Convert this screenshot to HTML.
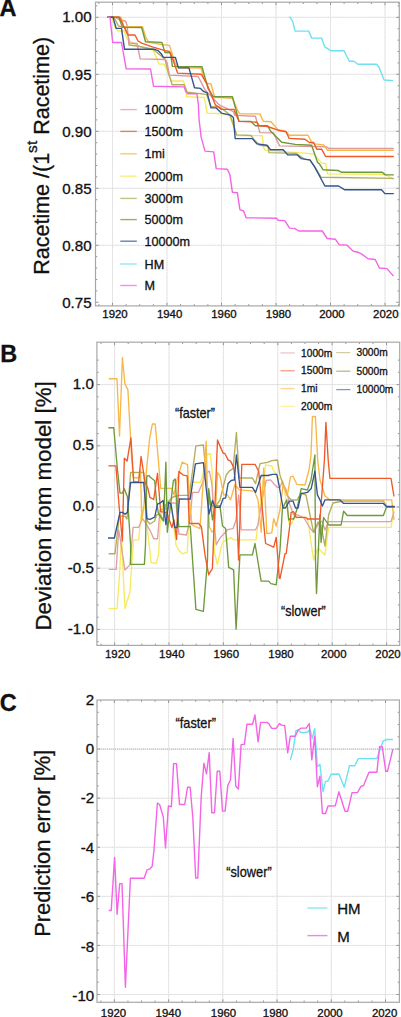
<!DOCTYPE html>
<html><head><meta charset="utf-8"><style>
html,body{margin:0;padding:0;background:#fff;}
svg{display:block;}
text{font-family:"Liberation Sans", sans-serif;fill:#111;stroke:#111;stroke-width:0.3px;}
</style></head><body>
<svg width="401" height="1017" viewBox="0 0 401 1017">
<rect width="401" height="1017" fill="#fff"/>
<path d="M112.50 2.20V305.90 M167.00 2.20V305.90 M221.50 2.20V305.90 M276.00 2.20V305.90 M330.50 2.20V305.90 M385.00 2.20V305.90 M95.50 17.30H399.30 M95.50 74.30H399.30 M95.50 131.30H399.30 M95.50 188.30H399.30 M95.50 245.30H399.30" stroke="#ebebeb" stroke-width="1" fill="none"/>
<path d="M112.50 2.20V305.90 M167.00 2.20V305.90 M221.50 2.20V305.90 M276.00 2.20V305.90 M330.50 2.20V305.90 M385.00 2.20V305.90 M95.50 17.30H399.30 M95.50 74.30H399.30 M95.50 131.30H399.30 M95.50 188.30H399.30 M95.50 245.30H399.30" stroke="#d8d8d8" stroke-width="1" stroke-dasharray="0.9 1.6" fill="none"/>
<path d="M98.88 305.90v-1.8M98.88 2.20v1.8 M112.50 305.90v-3M112.50 2.20v3 M126.12 305.90v-1.8M126.12 2.20v1.8 M139.75 305.90v-1.8M139.75 2.20v1.8 M153.38 305.90v-1.8M153.38 2.20v1.8 M167.00 305.90v-3M167.00 2.20v3 M180.62 305.90v-1.8M180.62 2.20v1.8 M194.25 305.90v-1.8M194.25 2.20v1.8 M207.88 305.90v-1.8M207.88 2.20v1.8 M221.50 305.90v-3M221.50 2.20v3 M235.12 305.90v-1.8M235.12 2.20v1.8 M248.75 305.90v-1.8M248.75 2.20v1.8 M262.38 305.90v-1.8M262.38 2.20v1.8 M276.00 305.90v-3M276.00 2.20v3 M289.62 305.90v-1.8M289.62 2.20v1.8 M303.25 305.90v-1.8M303.25 2.20v1.8 M316.88 305.90v-1.8M316.88 2.20v1.8 M330.50 305.90v-3M330.50 2.20v3 M344.12 305.90v-1.8M344.12 2.20v1.8 M357.75 305.90v-1.8M357.75 2.20v1.8 M371.38 305.90v-1.8M371.38 2.20v1.8 M385.00 305.90v-3M385.00 2.20v3 M398.62 305.90v-1.8M398.62 2.20v1.8 M95.50 302.30h3M399.30 302.30h-3 M95.50 290.90h1.8M399.30 290.90h-1.8 M95.50 279.50h1.8M399.30 279.50h-1.8 M95.50 268.10h1.8M399.30 268.10h-1.8 M95.50 256.70h1.8M399.30 256.70h-1.8 M95.50 245.30h3M399.30 245.30h-3 M95.50 233.90h1.8M399.30 233.90h-1.8 M95.50 222.50h1.8M399.30 222.50h-1.8 M95.50 211.10h1.8M399.30 211.10h-1.8 M95.50 199.70h1.8M399.30 199.70h-1.8 M95.50 188.30h3M399.30 188.30h-3 M95.50 176.90h1.8M399.30 176.90h-1.8 M95.50 165.50h1.8M399.30 165.50h-1.8 M95.50 154.10h1.8M399.30 154.10h-1.8 M95.50 142.70h1.8M399.30 142.70h-1.8 M95.50 131.30h3M399.30 131.30h-3 M95.50 119.90h1.8M399.30 119.90h-1.8 M95.50 108.50h1.8M399.30 108.50h-1.8 M95.50 97.10h1.8M399.30 97.10h-1.8 M95.50 85.70h1.8M399.30 85.70h-1.8 M95.50 74.30h3M399.30 74.30h-3 M95.50 62.90h1.8M399.30 62.90h-1.8 M95.50 51.50h1.8M399.30 51.50h-1.8 M95.50 40.10h1.8M399.30 40.10h-1.8 M95.50 28.70h1.8M399.30 28.70h-1.8 M95.50 17.30h3M399.30 17.30h-3 M95.50 5.90h1.8M399.30 5.90h-1.8" stroke="#8a8a8a" stroke-width="0.9" fill="none"/>
<rect x="95.50" y="2.20" width="303.80" height="303.70" fill="none" stroke="#a8a8a8" stroke-width="1.2"/>
<path d="M114.60 342.20V645.40 M169.00 342.20V645.40 M223.40 342.20V645.40 M277.80 342.20V645.40 M332.20 342.20V645.40 M386.60 342.20V645.40 M96.90 384.60H399.70 M96.90 445.80H399.70 M96.90 507.00H399.70 M96.90 568.20H399.70 M96.90 629.40H399.70" stroke="#ebebeb" stroke-width="1" fill="none"/>
<path d="M114.60 342.20V645.40 M169.00 342.20V645.40 M223.40 342.20V645.40 M277.80 342.20V645.40 M332.20 342.20V645.40 M386.60 342.20V645.40 M96.90 384.60H399.70 M96.90 445.80H399.70 M96.90 507.00H399.70 M96.90 568.20H399.70 M96.90 629.40H399.70" stroke="#d8d8d8" stroke-width="1" stroke-dasharray="0.9 1.6" fill="none"/>
<path d="M101.00 645.40v-1.8M101.00 342.20v1.8 M114.60 645.40v-3M114.60 342.20v3 M128.20 645.40v-1.8M128.20 342.20v1.8 M141.80 645.40v-1.8M141.80 342.20v1.8 M155.40 645.40v-1.8M155.40 342.20v1.8 M169.00 645.40v-3M169.00 342.20v3 M182.60 645.40v-1.8M182.60 342.20v1.8 M196.20 645.40v-1.8M196.20 342.20v1.8 M209.80 645.40v-1.8M209.80 342.20v1.8 M223.40 645.40v-3M223.40 342.20v3 M237.00 645.40v-1.8M237.00 342.20v1.8 M250.60 645.40v-1.8M250.60 342.20v1.8 M264.20 645.40v-1.8M264.20 342.20v1.8 M277.80 645.40v-3M277.80 342.20v3 M291.40 645.40v-1.8M291.40 342.20v1.8 M305.00 645.40v-1.8M305.00 342.20v1.8 M318.60 645.40v-1.8M318.60 342.20v1.8 M332.20 645.40v-3M332.20 342.20v3 M345.80 645.40v-1.8M345.80 342.20v1.8 M359.40 645.40v-1.8M359.40 342.20v1.8 M373.00 645.40v-1.8M373.00 342.20v1.8 M386.60 645.40v-3M386.60 342.20v3 M96.90 641.64h1.8M399.70 641.64h-1.8 M96.90 629.40h3M399.70 629.40h-3 M96.90 617.16h1.8M399.70 617.16h-1.8 M96.90 604.92h1.8M399.70 604.92h-1.8 M96.90 592.68h1.8M399.70 592.68h-1.8 M96.90 580.44h1.8M399.70 580.44h-1.8 M96.90 568.20h3M399.70 568.20h-3 M96.90 555.96h1.8M399.70 555.96h-1.8 M96.90 543.72h1.8M399.70 543.72h-1.8 M96.90 531.48h1.8M399.70 531.48h-1.8 M96.90 519.24h1.8M399.70 519.24h-1.8 M96.90 507.00h3M399.70 507.00h-3 M96.90 494.76h1.8M399.70 494.76h-1.8 M96.90 482.52h1.8M399.70 482.52h-1.8 M96.90 470.28h1.8M399.70 470.28h-1.8 M96.90 458.04h1.8M399.70 458.04h-1.8 M96.90 445.80h3M399.70 445.80h-3 M96.90 433.56h1.8M399.70 433.56h-1.8 M96.90 421.32h1.8M399.70 421.32h-1.8 M96.90 409.08h1.8M399.70 409.08h-1.8 M96.90 396.84h1.8M399.70 396.84h-1.8 M96.90 384.60h3M399.70 384.60h-3 M96.90 372.36h1.8M399.70 372.36h-1.8 M96.90 360.12h1.8M399.70 360.12h-1.8" stroke="#8a8a8a" stroke-width="0.9" fill="none"/>
<rect x="96.90" y="342.20" width="302.80" height="303.20" fill="none" stroke="#a8a8a8" stroke-width="1.2"/>
<path d="M114.40 700.00V1002.30 M168.62 700.00V1002.30 M222.84 700.00V1002.30 M277.06 700.00V1002.30 M331.28 700.00V1002.30 M385.50 700.00V1002.30 M97.00 749.10H399.40 M97.00 798.18H399.40 M97.00 847.26H399.40 M97.00 896.34H399.40 M97.00 945.42H399.40 M97.00 994.50H399.40" stroke="#ebebeb" stroke-width="1" fill="none"/>
<path d="M114.40 700.00V1002.30 M168.62 700.00V1002.30 M222.84 700.00V1002.30 M277.06 700.00V1002.30 M331.28 700.00V1002.30 M385.50 700.00V1002.30 M97.00 749.10H399.40 M97.00 798.18H399.40 M97.00 847.26H399.40 M97.00 896.34H399.40 M97.00 945.42H399.40 M97.00 994.50H399.40" stroke="#d8d8d8" stroke-width="1" stroke-dasharray="0.9 1.6" fill="none"/>
<path d="M100.84 1002.30v-1.8M100.84 700.00v1.8 M114.40 1002.30v-3M114.40 700.00v3 M127.96 1002.30v-1.8M127.96 700.00v1.8 M141.51 1002.30v-1.8M141.51 700.00v1.8 M155.06 1002.30v-1.8M155.06 700.00v1.8 M168.62 1002.30v-3M168.62 700.00v3 M182.18 1002.30v-1.8M182.18 700.00v1.8 M195.73 1002.30v-1.8M195.73 700.00v1.8 M209.28 1002.30v-1.8M209.28 700.00v1.8 M222.84 1002.30v-3M222.84 700.00v3 M236.39 1002.30v-1.8M236.39 700.00v1.8 M249.95 1002.30v-1.8M249.95 700.00v1.8 M263.50 1002.30v-1.8M263.50 700.00v1.8 M277.06 1002.30v-3M277.06 700.00v3 M290.62 1002.30v-1.8M290.62 700.00v1.8 M304.17 1002.30v-1.8M304.17 700.00v1.8 M317.73 1002.30v-1.8M317.73 700.00v1.8 M331.28 1002.30v-3M331.28 700.00v3 M344.83 1002.30v-1.8M344.83 700.00v1.8 M358.39 1002.30v-1.8M358.39 700.00v1.8 M371.94 1002.30v-1.8M371.94 700.00v1.8 M385.50 1002.30v-3M385.50 700.00v3 M97.00 994.50h3M399.40 994.50h-3 M97.00 982.23h1.8M399.40 982.23h-1.8 M97.00 969.96h1.8M399.40 969.96h-1.8 M97.00 957.69h1.8M399.40 957.69h-1.8 M97.00 945.42h3M399.40 945.42h-3 M97.00 933.15h1.8M399.40 933.15h-1.8 M97.00 920.88h1.8M399.40 920.88h-1.8 M97.00 908.61h1.8M399.40 908.61h-1.8 M97.00 896.34h3M399.40 896.34h-3 M97.00 884.07h1.8M399.40 884.07h-1.8 M97.00 871.80h1.8M399.40 871.80h-1.8 M97.00 859.53h1.8M399.40 859.53h-1.8 M97.00 847.26h3M399.40 847.26h-3 M97.00 834.99h1.8M399.40 834.99h-1.8 M97.00 822.72h1.8M399.40 822.72h-1.8 M97.00 810.45h1.8M399.40 810.45h-1.8 M97.00 798.18h3M399.40 798.18h-3 M97.00 785.91h1.8M399.40 785.91h-1.8 M97.00 773.64h1.8M399.40 773.64h-1.8 M97.00 761.37h1.8M399.40 761.37h-1.8 M97.00 749.10h3M399.40 749.10h-3 M97.00 736.83h1.8M399.40 736.83h-1.8 M97.00 724.56h1.8M399.40 724.56h-1.8 M97.00 712.29h1.8M399.40 712.29h-1.8" stroke="#8a8a8a" stroke-width="0.9" fill="none"/>
<rect x="97.00" y="700.00" width="302.40" height="302.30" fill="none" stroke="#a8a8a8" stroke-width="1.2"/>
<path d="M97.00 749.10H399.40" stroke="#b6b6b6" stroke-width="1" stroke-dasharray="1 1" fill="none"/>
<path d="M107.50 17.20L112.00 17.20L115.00 27.00L118.00 31.00L124.00 31.00L127.40 39.40L131.00 42.00L141.00 46.90L153.00 50.00L156.00 56.70L159.00 64.10L164.20 64.10L170.70 79.50L171.40 81.00L183.40 81.00L186.40 90.00L186.40 96.70L204.20 97.40L207.20 113.10L228.00 114.00L230.00 116.20L236.70 135.60L262.20 135.60L263.70 147.60L265.20 150.40L307.90 153.40L313.90 154.10L321.80 163.40L325.60 163.40L327.40 173.90L385.00 174.30L393.80 179.50" stroke="#f4ea5c" stroke-width="1.4" fill="none" stroke-opacity="1.0" stroke-linejoin="round"/>
<path d="M107.50 17.20L114.00 17.20L118.50 26.00L125.00 27.50L128.50 37.00L129.00 45.00L137.00 46.00L153.00 49.20L164.90 58.90L168.70 73.90L172.20 84.70L184.10 84.70L187.10 92.20L206.50 94.40L211.00 106.40L219.90 107.10L230.00 114.70L236.70 134.90L251.00 135.50L253.90 139.40L259.90 145.40L268.00 146.00L269.00 152.60L295.90 153.40L304.90 159.40L309.90 160.00L313.90 165.40L321.10 177.30L393.80 178.40" stroke="#b2ae5e" stroke-width="1.4" fill="none" stroke-opacity="1.0" stroke-linejoin="round"/>
<path d="M107.50 17.20L115.00 17.20L120.00 20.00L125.50 21.00L127.00 25.00L129.00 43.00L137.00 43.50L140.20 58.90L165.50 59.50L167.20 63.40L169.40 75.10L198.00 76.50L200.50 81.00L205.00 89.90L212.00 97.00L219.20 104.90L233.40 111.60L234.90 115.40L255.40 116.20L259.90 132.60L273.50 132.90L279.50 145.90L326.00 146.70L329.00 148.40L393.80 148.40" stroke="#dc9aa0" stroke-width="1.4" fill="none" stroke-opacity="1.0" stroke-linejoin="round"/>
<path d="M107.50 17.20L121.00 17.20L123.70 26.70L142.50 26.70L145.50 36.50L148.50 42.40L163.40 44.70L169.40 45.40L172.40 54.40L175.40 63.40L178.40 67.90L201.00 68.00L204.00 78.00L207.20 83.20L211.00 84.00L214.70 97.40L232.60 98.20L237.90 110.90L239.70 113.90L259.90 113.90L263.30 121.30L271.00 121.80L278.00 129.60L286.20 131.50L289.20 135.20L308.00 135.20L312.40 143.60L323.60 144.90L327.40 150.20L393.80 150.30" stroke="#f8b645" stroke-width="1.4" fill="none" stroke-opacity="1.0" stroke-linejoin="round"/>
<path d="M107.50 17.20L118.70 17.20L122.50 27.30L141.70 27.50L145.50 41.70L161.90 42.40L164.20 49.90L165.00 52.50L170.50 52.90L172.40 66.40L202.00 66.70L208.00 88.40L213.20 96.70L232.40 96.70L236.00 110.00L239.00 121.40L251.00 121.40L255.40 125.70L267.50 125.70L270.50 131.00L281.70 142.20L295.20 144.40L311.60 145.20L317.60 162.40L319.30 163.70L323.00 169.70L338.00 170.50L341.80 172.30L382.20 172.30L385.30 174.90L393.80 174.90" stroke="#6f983a" stroke-width="1.4" fill="none" stroke-opacity="1.0" stroke-linejoin="round"/>
<path d="M107.50 17.20L119.50 17.20L126.00 31.00L128.00 35.00L135.00 35.00L138.00 41.00L141.70 43.20L152.20 46.90L164.90 50.70L169.40 51.40L172.40 58.20L177.60 73.10L201.20 74.20L207.20 84.70L215.40 104.90L221.40 109.40L234.00 109.40L239.00 121.40L256.90 122.20L259.20 125.90L267.50 126.50L278.00 130.20L286.00 131.70L289.20 138.40L304.90 139.20L309.40 142.50L313.70 142.50L316.80 149.30L321.80 149.30L325.60 156.50L393.80 156.50" stroke="#ef5a28" stroke-width="1.4" fill="none" stroke-opacity="1.0" stroke-linejoin="round"/>
<path d="M107.50 17.20L113.00 17.20L116.20 28.40L121.50 28.40L124.50 49.30L154.50 49.30L158.20 50.70L161.20 53.70L163.40 57.40L175.40 57.40L178.40 67.90L188.90 67.90L191.10 75.40L194.50 87.70L200.50 88.40L203.50 91.40L207.20 92.90L211.00 107.90L216.20 107.90L221.40 113.10L231.10 115.40L233.40 117.60L235.20 138.60L252.40 138.60L256.90 143.90L267.00 145.20L270.50 149.70L283.20 149.70L287.70 154.90L297.40 154.90L301.10 158.60L309.90 159.90L314.90 167.30L324.90 186.00L338.60 186.00L344.80 189.80L381.50 189.80L384.90 193.60L393.80 193.60" stroke="#33548f" stroke-width="1.4" fill="none" stroke-opacity="1.0" stroke-linejoin="round"/>
<path d="M289.70 16.60L292.70 21.50L295.10 31.10L308.70 31.10L311.70 38.10L321.60 38.10L324.70 46.80L327.70 48.60L330.70 50.70L344.00 50.70L349.40 61.30L353.90 61.30L357.90 64.30L376.60 64.30L379.00 67.30L384.10 80.00L393.20 80.60" stroke="#6ee0f2" stroke-width="1.4" fill="none" stroke-opacity="1.0" stroke-linejoin="round"/>
<path d="M107.50 17.20L110.00 17.20L112.70 42.50L121.50 42.50L126.20 68.90L150.50 69.00L153.50 86.20L184.10 86.90L185.60 91.40L187.90 93.70L196.90 93.70L198.40 104.90L199.10 120.00L201.20 137.40L205.00 151.10L213.70 151.90L216.20 168.60L227.40 169.30L229.90 174.80L232.40 192.30L237.40 192.80L239.90 209.70L243.60 211.00L246.10 217.70L276.50 218.30L278.20 220.30L284.70 220.60L289.60 228.10L294.50 228.40L298.70 231.00L322.30 231.00L327.20 238.50L335.30 239.20L339.30 244.80L346.80 245.10L353.30 251.30L358.20 252.30L361.50 253.90L368.00 258.80L375.20 259.50L379.40 268.00L387.00 268.60L393.50 276.10" stroke="#f464e6" stroke-width="1.4" fill="none" stroke-opacity="1.0" stroke-linejoin="round"/>
<path d="M120.3 109.60H136.8" stroke="#dc9aa0" stroke-width="1.4" stroke-opacity="0.75"/>
<text x="144.60" y="114.20" font-size="12.6" text-anchor="start" font-weight="normal" >1000m</text>
<path d="M120.3 131.40H136.8" stroke="#ef5a28" stroke-width="1.4" stroke-opacity="0.75"/>
<text x="144.60" y="136.00" font-size="12.6" text-anchor="start" font-weight="normal" >1500m</text>
<path d="M120.3 153.80H136.8" stroke="#f8b645" stroke-width="1.4" stroke-opacity="0.75"/>
<text x="144.60" y="158.40" font-size="12.6" text-anchor="start" font-weight="normal" >1mi</text>
<path d="M120.3 176.20H136.8" stroke="#f4ea5c" stroke-width="1.4" stroke-opacity="0.75"/>
<text x="144.60" y="180.80" font-size="12.6" text-anchor="start" font-weight="normal" >2000m</text>
<path d="M120.3 198.40H136.8" stroke="#b2ae5e" stroke-width="1.4" stroke-opacity="0.75"/>
<text x="144.60" y="203.00" font-size="12.6" text-anchor="start" font-weight="normal" >3000m</text>
<path d="M120.3 219.60H136.8" stroke="#6f983a" stroke-width="1.4" stroke-opacity="0.75"/>
<text x="144.60" y="224.20" font-size="12.6" text-anchor="start" font-weight="normal" >5000m</text>
<path d="M120.3 241.20H136.8" stroke="#33548f" stroke-width="1.4" stroke-opacity="0.75"/>
<text x="144.60" y="245.80" font-size="12.6" text-anchor="start" font-weight="normal" >10000m</text>
<path d="M120.3 264.00H136.8" stroke="#6ee0f2" stroke-width="1.4" stroke-opacity="0.75"/>
<text x="144.60" y="268.60" font-size="12.6" text-anchor="start" font-weight="normal" >HM</text>
<path d="M120.3 285.50H136.8" stroke="#f464e6" stroke-width="1.4" stroke-opacity="0.75"/>
<text x="144.60" y="290.10" font-size="12.6" text-anchor="start" font-weight="normal" >M</text>
<path d="M108.70 608.60L117.00 608.60L119.50 575.00L121.50 535.00L123.00 570.00L124.90 608.60L129.90 592.30L132.40 554.90L133.70 539.80L138.70 539.80L141.00 515.00L144.90 506.20L147.00 525.00L148.60 539.90L151.10 562.40L156.10 563.70L158.60 554.90L160.00 525.00L163.00 505.00L166.00 515.00L168.00 500.00L172.00 510.00L176.00 545.00L178.60 550.00L182.30 553.70L187.30 552.40L189.50 500.00L192.00 482.00L200.60 482.30L203.00 474.00L206.00 455.00L210.40 453.50L212.00 470.00L214.60 553.00L217.40 564.60L222.40 542.40L231.10 537.40L233.60 539.90L256.10 539.90L259.00 515.00L265.60 464.90L272.00 466.00L273.10 469.90L279.30 478.70L283.00 481.10L286.00 500.00L289.30 524.80L291.10 524.20L294.00 518.00L297.00 517.50L307.40 517.50L313.60 559.90L318.00 548.00L324.90 554.90L328.60 527.40L391.00 527.40L394.00 510.00" stroke="#f6ea60" stroke-width="1.35" fill="none" stroke-opacity="1.0" stroke-linejoin="round"/>
<path d="M108.70 569.40L116.20 569.40L118.70 530.00L120.00 537.40L124.90 570.00L129.90 564.90L133.10 527.40L138.70 527.40L142.40 518.60L145.00 522.00L150.00 530.30L153.70 538.70L157.50 538.70L160.00 510.00L169.00 508.00L171.50 502.80L176.10 503.20L178.90 534.00L186.40 535.00L190.00 520.00L192.40 492.40L198.40 492.40L202.90 481.90L206.00 473.00L209.40 471.10L212.00 485.00L214.00 520.00L216.20 544.90L220.00 538.00L224.30 533.50L227.40 529.70L233.00 528.70L236.00 520.00L238.70 494.80L240.00 510.00L241.20 529.70L255.60 529.80L258.00 525.00L262.00 500.00L266.20 480.50L270.60 479.90L274.00 484.00L277.40 487.40L280.00 487.40L282.00 482.00L286.20 489.90L290.00 505.00L293.60 514.80L298.00 515.00L304.00 518.00L310.00 528.00L313.60 532.40L318.60 523.70L322.00 521.00L325.00 530.00L328.60 521.60L391.00 521.60L394.00 512.00" stroke="#e0a0a6" stroke-width="1.35" fill="none" stroke-opacity="1.0" stroke-linejoin="round"/>
<path d="M108.70 553.70L115.00 553.70L119.30 516.10L125.00 516.10L127.00 519.00L130.60 472.50L143.70 472.50L147.40 521.10L150.00 524.00L154.70 521.00L156.50 515.00L160.00 514.00L163.00 520.00L165.50 505.00L170.00 500.00L173.00 497.00L176.00 496.00L179.00 495.40L189.30 495.40L195.90 445.90L203.40 445.00L206.50 480.00L210.00 505.00L215.00 507.00L220.00 500.00L226.20 475.00L229.30 471.10L233.10 468.60L236.40 432.50L239.30 478.00L252.40 478.00L255.60 483.60L260.00 463.70L267.50 462.40L271.80 460.60L277.40 460.00L279.90 474.90L286.80 494.90L291.00 499.80L297.00 500.00L301.00 493.00L306.00 495.00L310.00 515.00L313.60 532.40L318.00 522.00L321.00 525.00L324.90 546.10L328.60 515.00L333.00 503.00L343.00 501.00L383.40 501.00L387.20 507.20L394.50 507.20" stroke="#b4ae5c" stroke-width="1.35" fill="none" stroke-opacity="1.0" stroke-linejoin="round"/>
<path d="M108.70 378.70L117.00 378.70L119.50 436.00L122.40 357.50L124.90 383.70L127.90 389.90L131.20 450.00L133.10 477.50L138.70 478.00L140.50 470.00L141.80 520.00L144.00 505.00L146.50 470.00L149.60 438.70L152.40 424.00L155.20 424.00L157.50 450.00L160.70 488.30L171.90 488.30L174.00 495.00L177.00 480.00L182.20 462.10L187.50 464.60L189.50 500.00L192.00 525.00L200.00 528.70L204.00 470.00L206.20 441.20L207.50 495.00L209.40 527.00L212.00 532.00L214.50 530.00L216.20 497.00L217.50 472.40L220.00 476.10L223.70 494.80L227.40 494.80L230.60 499.80L234.90 484.80L239.30 489.80L254.40 491.10L258.00 500.00L261.20 532.30L263.70 468.10L266.80 533.50L271.80 532.90L273.70 518.60L276.20 526.00L280.00 510.00L283.00 485.00L287.40 494.90L290.50 476.80L293.00 476.20L296.80 484.30L305.00 485.00L309.00 470.00L311.00 455.00L312.40 416.50L315.40 416.50L317.70 460.00L320.00 480.00L325.00 496.00L329.90 499.90L391.70 499.90L394.00 520.00" stroke="#f8b848" stroke-width="1.35" fill="none" stroke-opacity="1.0" stroke-linejoin="round"/>
<path d="M108.40 427.70L113.70 427.70L117.50 470.00L120.00 493.10L122.50 493.10L124.30 488.70L127.40 496.80L130.60 545.00L130.60 564.40L144.40 564.40L145.50 545.00L146.80 476.20L149.30 475.60L150.00 477.00L154.70 480.80L156.50 501.40L158.40 513.50L163.50 521.00L165.90 462.10L167.30 532.20L170.00 510.00L173.30 480.80L175.20 478.90L177.00 510.00L178.90 526.60L190.30 526.30L195.90 609.40L203.40 611.30L207.50 560.00L208.70 488.60L212.50 519.80L215.00 506.00L220.00 506.00L222.50 526.00L225.60 528.50L228.70 567.40L233.60 569.90L236.10 629.20L239.90 554.90L252.40 554.90L255.00 543.50L261.10 581.10L268.60 581.10L271.00 583.60L276.20 584.80L280.00 549.90L282.40 508.60L286.80 499.80L288.70 520.00L290.50 518.60L293.60 519.20L296.80 509.80L301.20 488.60L307.40 490.00L311.00 480.00L314.90 455.00L315.50 560.00L316.50 593.50L319.90 515.00L321.10 542.40L323.60 517.50L328.60 525.00L341.10 525.00L343.60 511.20L347.30 515.50L383.40 515.50L386.40 507.20L394.80 507.20" stroke="#6f9a3c" stroke-width="1.35" fill="none" stroke-opacity="1.0" stroke-linejoin="round"/>
<path d="M108.40 465.80L115.90 465.80L119.00 505.00L122.40 541.00L124.30 458.30L127.10 461.10L130.90 437.80L133.70 481.70L138.70 481.80L141.10 456.50L144.90 481.70L148.00 488.70L149.90 497.40L153.70 499.50L157.50 473.30L160.70 511.60L166.80 512.60L171.90 527.50L174.00 520.00L176.60 539.60L178.90 471.50L183.40 475.20L187.20 475.90L189.30 523.50L198.70 523.50L201.40 526.80L205.00 554.90L208.70 574.80L209.00 573.90L212.40 568.60L217.50 440.00L220.60 447.40L223.10 453.00L225.00 453.70L228.10 459.90L230.60 461.10L233.70 467.40L235.50 482.30L238.60 560.00L241.80 464.30L255.00 464.30L258.70 471.20L265.60 543.50L273.70 547.20L276.20 537.30L279.30 578.00L280.00 578.60L285.00 553.60L286.20 553.50L289.90 524.80L291.10 512.30L293.60 511.70L296.10 517.30L305.00 517.30L307.40 519.00L320.00 519.00L324.40 460.00L325.90 422.40L328.20 460.00L329.90 478.30L391.00 478.30L394.00 496.50" stroke="#ef5a28" stroke-width="1.35" fill="none" stroke-opacity="1.0" stroke-linejoin="round"/>
<path d="M108.10 538.00L114.40 538.00L120.00 512.40L122.50 512.40L125.00 514.30L127.40 512.40L130.60 482.50L143.70 482.50L146.80 518.60L149.90 519.30L154.70 517.20L157.50 504.20L159.80 503.20L163.10 500.40L165.90 524.70L168.70 502.30L171.00 504.20L174.70 527.50L177.10 527.50L179.40 499.00L190.20 499.10L195.40 463.90L203.40 462.70L209.00 514.10L212.50 500.40L215.00 507.30L220.00 507.30L223.10 498.60L225.60 497.90L228.10 483.60L231.20 480.50L234.30 479.90L236.40 454.90L239.90 487.30L252.40 487.30L255.60 492.40L261.20 475.50L268.10 475.50L272.40 474.30L276.80 474.30L279.00 485.00L283.00 508.00L285.50 508.00L289.30 501.10L293.00 501.10L295.50 508.00L298.00 508.00L301.20 493.60L307.40 492.40L311.20 488.60L314.90 471.20L317.40 494.90L320.00 500.00L322.40 506.10L324.90 499.90L339.90 499.90L343.60 503.40L383.40 503.40L386.40 506.40L394.80 506.40" stroke="#33548f" stroke-width="1.35" fill="none" stroke-opacity="1.0" stroke-linejoin="round"/>
<path d="M280.5 352.90h14.2" stroke="#e0a0a6" stroke-width="1.3" stroke-opacity="0.6"/>
<text x="301.10" y="356.50" font-size="10.2" text-anchor="start" font-weight="normal" >1000m</text>
<path d="M280.5 370.80h14.2" stroke="#ef5a28" stroke-width="1.3" stroke-opacity="0.6"/>
<text x="301.10" y="374.40" font-size="10.2" text-anchor="start" font-weight="normal" >1500m</text>
<path d="M280.5 388.60h14.2" stroke="#f8b848" stroke-width="1.3" stroke-opacity="0.6"/>
<text x="301.10" y="392.20" font-size="10.2" text-anchor="start" font-weight="normal" >1mi</text>
<path d="M280.5 406.40h14.2" stroke="#f6ea60" stroke-width="1.3" stroke-opacity="0.6"/>
<text x="301.10" y="410.00" font-size="10.2" text-anchor="start" font-weight="normal" >2000m</text>
<path d="M336.2 352.60h14.2" stroke="#b4ae5c" stroke-width="1.3" stroke-opacity="0.6"/>
<text x="356.50" y="356.20" font-size="10.2" text-anchor="start" font-weight="normal" >3000m</text>
<path d="M336.2 371.20h14.2" stroke="#6f9a3c" stroke-width="1.3" stroke-opacity="0.6"/>
<text x="356.50" y="374.80" font-size="10.2" text-anchor="start" font-weight="normal" >5000m</text>
<path d="M336.2 389.60h14.2" stroke="#33548f" stroke-width="1.3" stroke-opacity="0.6"/>
<text x="356.50" y="393.20" font-size="10.2" text-anchor="start" font-weight="normal" >10000m</text>
<path d="M290.30 759.90L293.30 749.40L295.90 730.70L298.20 730.00L300.40 732.20L303.70 732.70L308.10 731.80L310.00 729.00L312.20 738.70L314.70 728.70L317.40 766.70L319.90 764.20L323.00 791.60L325.50 781.70L328.00 781.00L331.10 774.20L338.90 774.00L344.20 787.30L349.50 765.70L354.80 765.70L358.30 758.60L376.90 758.60L380.50 748.30L383.10 741.20L386.70 739.50L392.90 739.50" stroke="#6ee0f2" stroke-width="1.4" fill="none" stroke-opacity="1.0" stroke-linejoin="round"/>
<path d="M108.70 910.50L111.20 910.50L114.60 857.40L117.10 914.20L119.70 883.60L122.00 883.60L125.40 987.20L130.40 878.30L144.10 878.30L147.00 869.90L150.00 868.90L152.20 866.20L154.00 850.00L157.40 803.00L159.60 804.50L163.30 817.00L165.50 848.00L168.40 806.00L171.40 806.70L173.60 763.60L176.50 763.60L179.50 804.50L184.70 804.50L187.60 787.20L190.10 787.20L192.80 817.00L195.70 878.00L197.80 878.00L201.20 796.90L203.90 763.20L206.50 773.80L209.20 752.60L211.80 812.80L214.50 812.80L217.20 771.20L219.80 771.20L222.50 811.10L225.10 811.10L227.80 785.40L230.50 780.00L233.10 738.40L235.80 786.20L238.40 788.90L241.10 744.60L244.40 744.30L246.90 724.30L252.50 724.30L255.00 715.00L258.10 741.80L260.60 722.40L266.80 722.40L268.70 723.70L271.80 728.40L276.20 728.40L279.40 723.60L281.70 725.10L284.70 725.50L287.70 752.80L290.30 736.30L295.20 736.30L298.20 730.00L301.20 728.10L306.20 728.10L309.30 723.70L311.80 759.90L314.70 736.20L317.40 786.70L319.90 776.10L322.40 813.50L325.50 813.50L328.00 806.00L335.30 805.90L338.90 791.70L345.00 811.20L347.70 811.20L352.10 792.60L357.40 792.60L361.00 786.40L363.60 785.50L365.40 781.10L369.00 772.20L376.90 772.20L379.60 746.60L382.20 746.60L385.80 771.30L387.50 771.30L392.90 749.20" stroke="#f464e6" stroke-width="1.4" fill="none" stroke-opacity="1.0" stroke-linejoin="round"/>
<path d="M307.4 908H327.4" stroke="#6ee0f2" stroke-width="1.4" stroke-opacity="0.8"/>
<path d="M307.4 935.6H327.4" stroke="#f464e6" stroke-width="1.4" stroke-opacity="0.8"/>
<text x="337.20" y="914.40" font-size="15" text-anchor="start" font-weight="normal" >HM</text>
<text x="337.20" y="941.90" font-size="15" text-anchor="start" font-weight="normal" >M</text>
<text transform="translate(91.60,22.20) scale(1.08,1)" font-size="14.0" text-anchor="end">1.00</text>
<text transform="translate(91.60,80.40) scale(1.08,1)" font-size="14.0" text-anchor="end">0.95</text>
<text transform="translate(91.60,137.40) scale(1.08,1)" font-size="14.0" text-anchor="end">0.90</text>
<text transform="translate(91.60,194.40) scale(1.08,1)" font-size="14.0" text-anchor="end">0.85</text>
<text transform="translate(91.60,251.40) scale(1.08,1)" font-size="14.0" text-anchor="end">0.80</text>
<text transform="translate(91.60,308.40) scale(1.08,1)" font-size="14.0" text-anchor="end">0.75</text>
<text transform="translate(93.80,388.90) scale(1.08,1)" font-size="14.0" text-anchor="end">1.0</text>
<text transform="translate(93.80,450.10) scale(1.08,1)" font-size="14.0" text-anchor="end">0.5</text>
<text transform="translate(93.80,511.30) scale(1.08,1)" font-size="14.0" text-anchor="end">0.0</text>
<text transform="translate(93.80,572.50) scale(1.08,1)" font-size="14.0" text-anchor="end">-0.5</text>
<text transform="translate(93.80,633.70) scale(1.08,1)" font-size="14.0" text-anchor="end">-1.0</text>
<text transform="translate(94.20,704.92) scale(1.08,1)" font-size="14.0" text-anchor="end">2</text>
<text transform="translate(94.20,754.00) scale(1.08,1)" font-size="14.0" text-anchor="end">0</text>
<text transform="translate(94.20,803.44) scale(1.08,1)" font-size="14.0" text-anchor="end">-2</text>
<text transform="translate(94.20,852.88) scale(1.08,1)" font-size="14.0" text-anchor="end">-4</text>
<text transform="translate(94.20,902.32) scale(1.08,1)" font-size="14.0" text-anchor="end">-6</text>
<text transform="translate(94.20,951.76) scale(1.08,1)" font-size="14.0" text-anchor="end">-8</text>
<text transform="translate(94.20,1001.20) scale(1.08,1)" font-size="14.0" text-anchor="end">-10</text>
<text transform="translate(115.00,317.80) scale(1.09,1)" font-size="10.5" text-anchor="middle">1920</text>
<text transform="translate(169.60,317.80) scale(1.09,1)" font-size="10.5" text-anchor="middle">1940</text>
<text transform="translate(223.90,317.80) scale(1.09,1)" font-size="10.5" text-anchor="middle">1960</text>
<text transform="translate(278.50,317.80) scale(1.09,1)" font-size="10.5" text-anchor="middle">1980</text>
<text transform="translate(331.90,317.80) scale(1.09,1)" font-size="10.5" text-anchor="middle">2000</text>
<text transform="translate(385.80,317.80) scale(1.09,1)" font-size="10.5" text-anchor="middle">2020</text>
<text transform="translate(117.70,658.00) scale(1.09,1)" font-size="10.5" text-anchor="middle">1920</text>
<text transform="translate(171.80,658.00) scale(1.09,1)" font-size="10.5" text-anchor="middle">1940</text>
<text transform="translate(226.30,658.00) scale(1.09,1)" font-size="10.5" text-anchor="middle">1960</text>
<text transform="translate(281.00,658.00) scale(1.09,1)" font-size="10.5" text-anchor="middle">1980</text>
<text transform="translate(333.80,658.00) scale(1.09,1)" font-size="10.5" text-anchor="middle">2000</text>
<text transform="translate(388.00,658.00) scale(1.09,1)" font-size="10.5" text-anchor="middle">2020</text>
<text transform="translate(113.50,1016.80) scale(1.09,1)" font-size="10.5" text-anchor="middle">1920</text>
<text transform="translate(168.30,1016.80) scale(1.09,1)" font-size="10.5" text-anchor="middle">1940</text>
<text transform="translate(223.50,1016.80) scale(1.09,1)" font-size="10.5" text-anchor="middle">1960</text>
<text transform="translate(275.50,1016.80) scale(1.09,1)" font-size="10.5" text-anchor="middle">1980</text>
<text transform="translate(330.00,1016.80) scale(1.09,1)" font-size="10.5" text-anchor="middle">2000</text>
<text transform="translate(384.60,1016.80) scale(1.09,1)" font-size="10.5" text-anchor="middle">2020</text>
<text x="-0.60" y="15.80" font-size="23.5" text-anchor="start" font-weight="bold" >A</text>
<text x="0.20" y="361.60" font-size="23.5" text-anchor="start" font-weight="bold" >B</text>
<text x="-0.30" y="711.30" font-size="23.5" text-anchor="start" font-weight="bold" >C</text>
<text transform="translate(48.90,274.80) rotate(-90)" font-size="21.5" textLength="238.0" lengthAdjust="spacingAndGlyphs">Racetime /(1<tspan font-size="15.5" dy="-11.5">st</tspan><tspan dy="11.5"> Racetime)</tspan></text>
<text transform="translate(50.70,630.60) rotate(-90)" font-size="21.5" textLength="249.4" lengthAdjust="spacingAndGlyphs">Deviation from model [%]</text>
<text transform="translate(50.40,936.80) rotate(-90)" font-size="21.5" textLength="187.0" lengthAdjust="spacingAndGlyphs">Prediction error [%]</text>
<text x="175.00" y="418.00" font-size="14.6" textLength="39.9" lengthAdjust="spacingAndGlyphs">“faster”</text>
<text x="281.00" y="616.00" font-size="14.6" textLength="44.8" lengthAdjust="spacingAndGlyphs">“slower”</text>
<text x="175.60" y="727.50" font-size="14.6" textLength="40.3" lengthAdjust="spacingAndGlyphs">“faster”</text>
<text x="226.20" y="876.50" font-size="14.6" textLength="45.5" lengthAdjust="spacingAndGlyphs">“slower”</text>
</svg></body></html>
